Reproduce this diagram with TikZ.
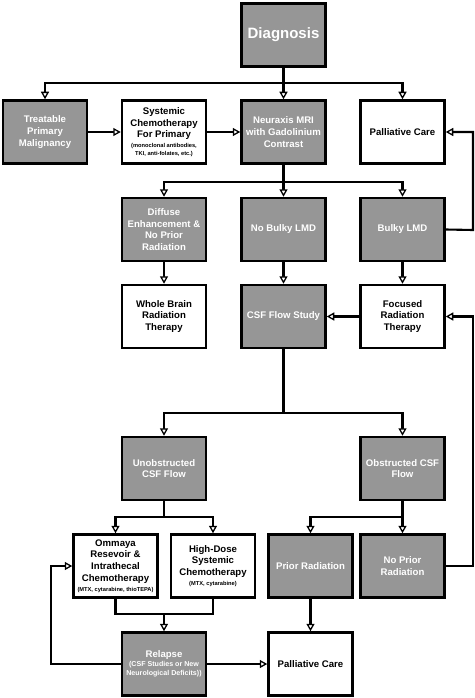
\documentclass[tikz,border=0pt]{standalone}
\usepackage{fontspec}
\setmainfont{Liberation Sans}
\usetikzlibrary{arrows.meta}
\definecolor{boxgray}{RGB}{150,150,150}
\newcommand{\smallf}{\fontsize{5.7}{7.3}\selectfont}
\newcommand{\midf}{\fontsize{7.1}{9}\selectfont}
\tikzset{
  basebox/.style={draw=black, line width=2.5pt, minimum width=84pt, minimum height=63pt,
    inner sep=1pt, align=center, font=\fontsize{9.6}{11.7}\selectfont\bfseries},
  gbox/.style={basebox, fill=boxgray, text=white},
  wbox/.style={basebox, fill=white, text=black},
  arr/.style={line width=2.1pt, line join=miter, -{Triangle[fill=white, length=7.5pt, width=8pt, line width=1.3pt]}},
  ln/.style={line width=2.1pt, line join=miter}
}
\begin{document}
\begin{tikzpicture}[x=1pt,y=-1pt]
\useasboundingbox[fill=white] (0,0) rectangle (474,698);
% nodes
\node[gbox, font=\fontsize{15}{18}\selectfont\bfseries] (diag) at (283.5,35) {Diagnosis};
\node[gbox] (treat) at (45,132) {Treatable\\Primary\\Malignancy};
\node[wbox] (sys) at (164,132) {Systemic\\Chemotherapy\\For Primary\\[-1.8pt]{\smallf (monoclonal antibodies,}\\[-4.4pt]{\smallf TKI, anti-folates, etc.)}};
\node[gbox] (neur) at (283.5,132) {Neuraxis MRI\\with Gadolinium\\Contrast};
\node[wbox] (pall1) at (402.5,132) {Palliative Care};
\node[gbox] (diff) at (164,229.5) {Diffuse\\Enhancement \&\\No Prior\\Radiation};
\node[gbox] (nobulky) at (283.5,229.5) {No Bulky LMD};
\node[gbox] (bulky) at (402.5,229.5) {Bulky LMD};
\node[wbox] (wbrt) at (164,316.5) {Whole Brain\\Radiation\\Therapy};
\node[gbox] (csf) at (283.5,316.5) {CSF Flow Study};
\node[wbox] (focus) at (402.5,316.5) {Focused\\Radiation\\Therapy};
\node[gbox] (unob) at (164,468.5) {Unobstructed\\CSF Flow};
\node[gbox] (obst) at (402.5,468.5) {Obstructed CSF\\Flow};
\node[wbox] (omm) at (115.5,566) {Ommaya\\Resevoir \&\\Intrathecal\\Chemotherapy\\[-1.5pt]{\smallf (MTX, cytarabine, thioTEPA)}};
\node[wbox] (hdc) at (213,566) {High-Dose\\Systemic\\Chemotherapy\\[-1.5pt]{\smallf (MTX, cytarabine)}};
\node[gbox] (prior) at (310.5,566) {Prior Radiation};
\node[gbox] (noprior) at (402.5,566) {No Prior\\Radiation};
\node[gbox] (relapse) at (164,664) {Relapse\\[-2.6pt]{\midf (CSF Studies or New}\\[-2.6pt]{\midf Neurological Deficits))}};
\node[wbox] (pall2) at (310.5,664) {Palliative Care};
% junction coordinates
\coordinate (j1) at (283.5,83);
\coordinate (j2) at (283.5,182);
\coordinate (j3) at (283.5,413);
\coordinate (j4) at (164,517);
\coordinate (j5) at (402.5,517);
\coordinate (m1) at (115.5,614);
\coordinate (m2) at (164,614);
\coordinate (r1) at (473,230);
\coordinate (r2) at (473,566);
\coordinate (l1) at (51,664);
% connectors
\draw[ln] (diag.south) -- (j1);
\draw[arr] (j1) -| (treat.north);
\draw[arr] (j1) -| (pall1.north);
\draw[arr] (j1) -- (neur.north);
\draw[arr] (treat.east) -- (sys.west);
\draw[arr] (sys.east) -- (neur.west);
\draw[ln] (neur.south) -- (j2);
\draw[arr] (j2) -| (diff.north);
\draw[arr] (j2) -| (bulky.north);
\draw[arr] (j2) -- (nobulky.north);
\draw[arr] (bulky.east) -- (r1) |- (pall1.east);
\draw[arr] (diff.south) -- (wbrt.north);
\draw[arr] (nobulky.south) -- (csf.north);
\draw[arr] (bulky.south) -- (focus.north);
\draw[arr] (focus.west) -- (csf.east);
\draw[ln] (csf.south) -- (j3);
\draw[arr] (j3) -| (unob.north);
\draw[arr] (j3) -| (obst.north);
\draw[ln] (unob.south) -- (j4);
\draw[arr] (j4) -| (omm.north);
\draw[arr] (j4) -| (hdc.north);
\draw[ln] (obst.south) -- (j5);
\draw[arr] (j5) -| (prior.north);
\draw[arr] (j5) -- (noprior.north);
\draw[arr] (noprior.east) -- (r2) |- (focus.east);
\draw[ln] (omm.south) -- (m1) -| (hdc.south);
\draw[arr] (m2) -- (relapse.north);
\draw[arr] (prior.south) -- (pall2.north);
\draw[arr] (relapse.east) -- (pall2.west);
\draw[arr] (relapse.west) -- (l1) |- (omm.west);
\end{tikzpicture}
\end{document}
